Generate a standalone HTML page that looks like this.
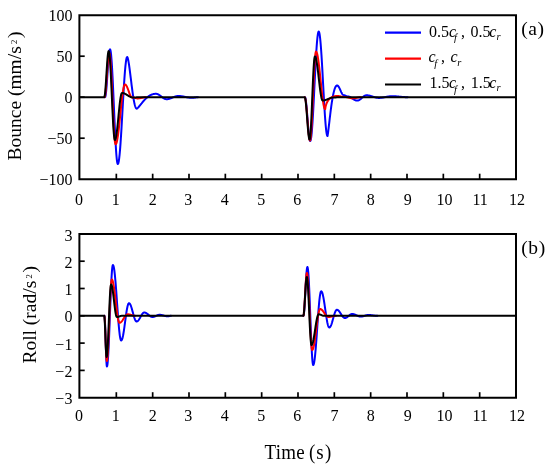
<!DOCTYPE html>
<html><head><meta charset="utf-8"><title>Bounce and roll response</title>
<style>
html,body{margin:0;padding:0;background:#fff;}
body{width:550px;height:469px;overflow:hidden;}
svg{display:block;}
text{font-family:"Liberation Serif","Times New Roman",serif;fill:#000;}
</style></head>
<body>
<svg width="550" height="469" viewBox="0 0 550 469">
<rect x="0" y="0" width="550" height="469" fill="#fff"/>
<g fill="none" stroke-width="2.0" stroke-linejoin="round" stroke-linecap="round">
<path d="M105.00 97.20 L105.25 96.91 L105.50 96.03 L105.75 94.59 L106.00 92.63 L106.25 90.19 L106.50 87.33 L106.75 84.12 L107.00 80.65 L107.25 77.00 L107.50 73.25 L107.75 69.50 L108.00 65.85 L108.25 62.38 L108.50 59.17 L108.75 56.31 L109.00 53.87 L109.25 51.91 L109.50 50.47 L109.75 49.59 L110.00 49.30 L110.25 49.59 L110.50 50.47 L110.75 51.93 L111.01 53.95 L111.26 56.51 L111.51 59.58 L111.76 63.14 L112.01 67.14 L112.26 71.55 L112.52 76.31 L112.77 81.39 L113.02 86.73 L113.27 92.28 L113.52 97.97 L113.77 103.75 L114.03 109.55 L114.28 115.33 L114.53 121.02 L114.78 126.57 L115.03 131.91 L115.28 136.99 L115.54 141.75 L115.79 146.16 L116.04 150.16 L116.29 153.72 L116.54 156.79 L116.79 159.35 L117.05 161.37 L117.30 162.83 L117.55 163.71 L117.80 164.00 L118.05 163.81 L118.31 163.23 L118.56 162.27 L118.82 160.94 L119.07 159.25 L119.32 157.21 L119.58 154.83 L119.83 152.12 L120.09 149.12 L120.34 145.85 L120.59 142.31 L120.85 138.55 L121.10 134.59 L121.36 130.45 L121.61 126.17 L121.86 121.77 L122.12 117.30 L122.37 112.77 L122.63 108.23 L122.88 103.70 L123.14 99.23 L123.39 94.83 L123.64 90.55 L123.90 86.41 L124.15 82.45 L124.41 78.69 L124.66 75.15 L124.91 71.88 L125.17 68.88 L125.42 66.17 L125.68 63.79 L125.93 61.75 L126.18 60.06 L126.44 58.73 L126.69 57.77 L126.95 57.19 L127.20 57.00 L127.45 57.31 L127.71 57.97 L127.96 58.89 L128.21 60.02 L128.46 61.33 L128.72 62.80 L128.97 64.40 L129.22 66.11 L129.47 67.92 L129.73 69.80 L129.98 71.76 L130.23 73.76 L130.48 75.79 L130.74 77.84 L130.99 79.91 L131.24 81.96 L131.49 84.01 L131.75 86.02 L132.00 87.99 L132.25 89.92 L132.51 91.79 L132.76 93.59 L133.01 95.32 L133.26 96.97 L133.52 98.52 L133.77 99.99 L134.02 101.35 L134.27 102.60 L134.53 103.75 L134.78 104.78 L135.03 105.70 L135.28 106.49 L135.54 107.17 L135.79 107.72 L136.04 108.15 L136.29 108.46 L136.55 108.64 L136.80 108.70 L137.05 108.57 L137.30 108.37 L137.55 108.15 L137.81 107.90 L138.06 107.64 L138.31 107.37 L138.56 107.09 L138.81 106.80 L139.06 106.50 L139.31 106.20 L139.56 105.89 L139.82 105.58 L140.07 105.27 L140.32 104.95 L140.57 104.64 L140.82 104.33 L141.07 104.01 L141.32 103.70 L141.58 103.39 L141.83 103.07 L142.08 102.77 L142.33 102.46 L142.58 102.16 L142.83 101.86 L143.08 101.56 L143.33 101.27 L143.59 100.98 L143.84 100.69 L144.09 100.41 L144.34 100.14 L144.59 99.87 L144.84 99.60 L145.09 99.34 L145.34 99.08 L145.60 98.83 L145.85 98.59 L146.10 98.35 L146.35 98.11 L146.60 97.89 L146.85 97.66 L147.10 97.45 L147.36 97.24 L147.61 97.03 L147.86 96.83 L148.11 96.64 L148.36 96.46 L148.61 96.28 L148.86 96.11 L149.11 95.94 L149.37 95.78 L149.62 95.63 L149.87 95.48 L150.12 95.34 L150.37 95.20 L150.62 95.07 L150.87 94.95 L151.12 94.84 L151.38 94.73 L151.63 94.63 L151.88 94.53 L152.13 94.44 L152.38 94.35 L152.63 94.28 L152.88 94.20 L153.14 94.14 L153.39 94.08 L153.64 94.02 L153.89 93.98 L154.14 93.93 L154.39 93.90 L154.64 93.87 L154.89 93.84 L155.15 93.82 L155.40 93.81 L155.65 93.80 L155.90 93.80 L156.15 93.81 L156.41 93.83 L156.66 93.87 L156.92 93.92 L157.17 93.99 L157.43 94.07 L157.68 94.16 L157.94 94.27 L158.19 94.39 L158.45 94.52 L158.70 94.66 L158.96 94.82 L159.21 94.98 L159.47 95.15 L159.72 95.33 L159.98 95.51 L160.23 95.70 L160.49 95.90 L160.74 96.10 L161.00 96.30 L161.25 96.50 L161.50 96.70 L161.76 96.90 L162.01 97.10 L162.27 97.30 L162.52 97.49 L162.78 97.67 L163.03 97.85 L163.29 98.02 L163.54 98.18 L163.80 98.34 L164.05 98.48 L164.31 98.61 L164.56 98.73 L164.82 98.84 L165.07 98.93 L165.33 99.01 L165.58 99.08 L165.84 99.13 L166.09 99.17 L166.35 99.19 L166.60 99.20 L166.85 99.20 L167.11 99.19 L167.36 99.17 L167.62 99.14 L167.87 99.11 L168.13 99.07 L168.38 99.02 L168.63 98.97 L168.89 98.91 L169.14 98.84 L169.40 98.77 L169.65 98.69 L169.91 98.61 L170.16 98.52 L170.42 98.43 L170.67 98.34 L170.92 98.24 L171.18 98.14 L171.43 98.03 L171.69 97.93 L171.94 97.82 L172.20 97.71 L172.45 97.60 L172.70 97.49 L172.96 97.38 L173.21 97.27 L173.47 97.17 L173.72 97.06 L173.98 96.96 L174.23 96.86 L174.48 96.77 L174.74 96.68 L174.99 96.59 L175.25 96.51 L175.50 96.43 L175.76 96.36 L176.01 96.29 L176.27 96.23 L176.52 96.18 L176.77 96.13 L177.03 96.09 L177.28 96.06 L177.54 96.03 L177.79 96.01 L178.05 96.00 L178.30 96.00 L178.55 96.00 L178.81 96.01 L179.06 96.01 L179.31 96.02 L179.57 96.04 L179.82 96.05 L180.08 96.07 L180.33 96.10 L180.58 96.12 L180.84 96.15 L181.09 96.18 L181.34 96.21 L181.60 96.25 L181.85 96.28 L182.11 96.32 L182.36 96.36 L182.61 96.41 L182.87 96.45 L183.12 96.50 L183.37 96.54 L183.63 96.59 L183.88 96.64 L184.14 96.69 L184.39 96.74 L184.64 96.80 L184.90 96.85 L185.15 96.90 L185.40 96.95 L185.66 97.00 L185.91 97.06 L186.16 97.11 L186.42 97.16 L186.67 97.21 L186.93 97.26 L187.18 97.30 L187.43 97.35 L187.69 97.39 L187.94 97.44 L188.19 97.48 L188.45 97.52 L188.70 97.55 L188.96 97.59 L189.21 97.62 L189.46 97.65 L189.72 97.68 L189.97 97.70 L190.22 97.73 L190.48 97.75 L190.73 97.76 L190.99 97.78 L191.24 97.79 L191.49 97.79 L191.75 97.80 L192.00 97.80 L192.25 97.80 L192.50 97.79 L192.75 97.78 L193.00 97.76 L193.25 97.74 L193.50 97.71 L193.75 97.68 L194.00 97.65 L194.25 97.61 L194.50 97.58 L194.75 97.54 L195.00 97.50 L195.25 97.46 L195.50 97.42 L195.75 97.39 L196.00 97.35 L196.25 97.32 L196.50 97.29 L196.75 97.26 L197.00 97.24 L197.25 97.22 L197.50 97.21 L197.75 97.20 L198.00 97.20" stroke="#0000ff"/>
<path d="M304.90 97.20 L305.15 97.44 L305.40 98.17 L305.66 99.37 L305.91 101.01 L306.16 103.05 L306.41 105.45 L306.67 108.15 L306.92 111.10 L307.17 114.23 L307.42 117.46 L307.68 120.74 L307.93 123.97 L308.18 127.10 L308.43 130.05 L308.69 132.75 L308.94 135.15 L309.19 137.19 L309.44 138.83 L309.70 140.03 L309.95 140.76 L310.20 141.00 L310.45 140.77 L310.70 140.07 L310.95 138.91 L311.20 137.31 L311.45 135.27 L311.70 132.81 L311.95 129.95 L312.20 126.72 L312.45 123.15 L312.70 119.26 L312.95 115.10 L313.20 110.68 L313.45 106.06 L313.70 101.27 L313.95 96.35 L314.20 91.35 L314.45 86.30 L314.70 81.25 L314.95 76.25 L315.20 71.33 L315.45 66.54 L315.70 61.92 L315.95 57.50 L316.20 53.34 L316.45 49.45 L316.70 45.88 L316.95 42.65 L317.20 39.79 L317.45 37.33 L317.70 35.29 L317.95 33.69 L318.20 32.53 L318.45 31.83 L318.70 31.60 L318.95 31.81 L319.20 32.44 L319.45 33.48 L319.71 34.93 L319.96 36.77 L320.21 38.99 L320.46 41.57 L320.71 44.49 L320.96 47.73 L321.21 51.25 L321.47 55.04 L321.72 59.06 L321.97 63.28 L322.22 67.67 L322.47 72.18 L322.72 76.79 L322.97 81.46 L323.23 86.14 L323.48 90.81 L323.73 95.42 L323.98 99.93 L324.23 104.32 L324.48 108.54 L324.73 112.56 L324.99 116.35 L325.24 119.87 L325.49 123.11 L325.74 126.03 L325.99 128.61 L326.24 130.83 L326.49 132.67 L326.75 134.12 L327.00 135.16 L327.25 135.79 L327.50 136.00 L327.75 134.72 L328.01 132.98 L328.26 131.04 L328.51 128.99 L328.76 126.87 L329.02 124.71 L329.27 122.53 L329.52 120.36 L329.77 118.21 L330.03 116.08 L330.28 114.00 L330.53 111.96 L330.78 109.98 L331.04 108.06 L331.29 106.20 L331.54 104.41 L331.79 102.70 L332.05 101.06 L332.30 99.50 L332.55 98.02 L332.81 96.63 L333.06 95.31 L333.31 94.08 L333.56 92.94 L333.82 91.88 L334.07 90.90 L334.32 90.01 L334.57 89.20 L334.83 88.48 L335.08 87.84 L335.33 87.28 L335.58 86.79 L335.84 86.39 L336.09 86.07 L336.34 85.82 L336.59 85.64 L336.85 85.53 L337.10 85.50 L337.36 85.54 L337.62 85.64 L337.87 85.82 L338.13 86.06 L338.39 86.36 L338.65 86.72 L338.90 87.13 L339.16 87.59 L339.42 88.10 L339.68 88.63 L339.93 89.19 L340.19 89.77 L340.45 90.35 L340.71 90.93 L340.97 91.51 L341.22 92.07 L341.48 92.60 L341.74 93.11 L342.00 93.57 L342.25 93.98 L342.51 94.34 L342.77 94.64 L343.03 94.88 L343.28 95.06 L343.54 95.16 L343.80 95.20 L344.06 95.22 L344.33 95.26 L344.59 95.33 L344.86 95.43 L345.12 95.54 L345.39 95.67 L345.65 95.80 L345.91 95.93 L346.18 96.06 L346.44 96.17 L346.71 96.27 L346.97 96.34 L347.24 96.38 L347.50 96.40 L347.76 96.41 L348.01 96.43 L348.27 96.46 L348.52 96.51 L348.78 96.58 L349.03 96.65 L349.29 96.74 L349.54 96.84 L349.80 96.95 L350.05 97.08 L350.31 97.21 L350.56 97.35 L350.82 97.50 L351.07 97.66 L351.33 97.82 L351.58 97.98 L351.84 98.15 L352.09 98.33 L352.35 98.50 L352.61 98.67 L352.86 98.85 L353.12 99.02 L353.37 99.18 L353.63 99.34 L353.88 99.50 L354.14 99.65 L354.39 99.79 L354.65 99.92 L354.90 100.05 L355.16 100.16 L355.41 100.26 L355.67 100.35 L355.92 100.42 L356.18 100.49 L356.43 100.54 L356.69 100.57 L356.94 100.59 L357.20 100.60 L357.45 100.59 L357.70 100.56 L357.95 100.51 L358.21 100.45 L358.46 100.36 L358.71 100.26 L358.96 100.15 L359.21 100.01 L359.46 99.86 L359.71 99.70 L359.96 99.53 L360.22 99.34 L360.47 99.14 L360.72 98.94 L360.97 98.73 L361.22 98.51 L361.47 98.29 L361.72 98.06 L361.98 97.84 L362.23 97.61 L362.48 97.39 L362.73 97.17 L362.98 96.96 L363.23 96.76 L363.48 96.56 L363.74 96.37 L363.99 96.20 L364.24 96.04 L364.49 95.89 L364.74 95.75 L364.99 95.64 L365.24 95.54 L365.49 95.45 L365.75 95.39 L366.00 95.34 L366.25 95.31 L366.50 95.30 L366.75 95.30 L367.00 95.31 L367.25 95.32 L367.50 95.34 L367.75 95.36 L368.00 95.39 L368.25 95.42 L368.50 95.46 L368.75 95.50 L369.00 95.55 L369.25 95.60 L369.50 95.65 L369.75 95.71 L370.00 95.77 L370.25 95.84 L370.50 95.90 L370.75 95.97 L371.00 96.05 L371.25 96.12 L371.50 96.20 L371.75 96.28 L372.00 96.36 L372.25 96.44 L372.50 96.52 L372.75 96.60 L373.00 96.68 L373.25 96.76 L373.50 96.84 L373.75 96.92 L374.00 97.00 L374.25 97.08 L374.50 97.15 L374.75 97.23 L375.00 97.30 L375.25 97.36 L375.50 97.43 L375.75 97.49 L376.00 97.55 L376.25 97.60 L376.50 97.65 L376.75 97.70 L377.00 97.74 L377.25 97.78 L377.50 97.81 L377.75 97.84 L378.00 97.86 L378.25 97.88 L378.50 97.89 L378.75 97.90 L379.00 97.90 L379.25 97.90 L379.50 97.89 L379.75 97.89 L380.00 97.88 L380.25 97.86 L380.50 97.84 L380.75 97.83 L381.00 97.80 L381.25 97.78 L381.50 97.75 L381.75 97.72 L382.00 97.69 L382.25 97.65 L382.50 97.61 L382.75 97.57 L383.00 97.53 L383.25 97.49 L383.50 97.45 L383.75 97.40 L384.00 97.35 L384.25 97.30 L384.50 97.25 L384.75 97.20 L385.00 97.15 L385.25 97.10 L385.50 97.05 L385.75 97.00 L386.00 96.95 L386.25 96.90 L386.50 96.85 L386.75 96.80 L387.00 96.75 L387.25 96.70 L387.50 96.65 L387.75 96.61 L388.00 96.57 L388.25 96.53 L388.50 96.49 L388.75 96.45 L389.00 96.41 L389.25 96.38 L389.50 96.35 L389.75 96.32 L390.00 96.30 L390.25 96.27 L390.50 96.26 L390.75 96.24 L391.00 96.22 L391.25 96.21 L391.50 96.21 L391.75 96.20 L392.00 96.20 L392.25 96.20 L392.50 96.20 L392.75 96.21 L393.01 96.21 L393.26 96.22 L393.51 96.22 L393.76 96.23 L394.01 96.24 L394.26 96.25 L394.52 96.26 L394.77 96.28 L395.02 96.29 L395.27 96.30 L395.52 96.32 L395.77 96.34 L396.03 96.36 L396.28 96.37 L396.53 96.39 L396.78 96.41 L397.03 96.44 L397.28 96.46 L397.54 96.48 L397.79 96.50 L398.04 96.53 L398.29 96.55 L398.54 96.57 L398.79 96.60 L399.05 96.62 L399.30 96.65 L399.55 96.67 L399.80 96.70 L400.05 96.73 L400.30 96.75 L400.55 96.78 L400.81 96.80 L401.06 96.83 L401.31 96.85 L401.56 96.87 L401.81 96.90 L402.06 96.92 L402.32 96.94 L402.57 96.96 L402.82 96.99 L403.07 97.01 L403.32 97.03 L403.57 97.04 L403.83 97.06 L404.08 97.08 L404.33 97.10 L404.58 97.11 L404.83 97.12 L405.08 97.14 L405.34 97.15 L405.59 97.16 L405.84 97.17 L406.09 97.18 L406.34 97.18 L406.59 97.19 L406.85 97.19 L407.10 97.20 L407.35 97.20 L407.60 97.20" stroke="#0000ff"/>
<path d="M104.50 97.20 L104.75 96.90 L105.01 96.00 L105.26 94.54 L105.51 92.54 L105.76 90.07 L106.02 87.19 L106.27 83.98 L106.52 80.53 L106.77 76.93 L107.03 73.27 L107.28 69.67 L107.53 66.22 L107.78 63.01 L108.04 60.13 L108.29 57.66 L108.54 55.66 L108.79 54.20 L109.05 53.30 L109.30 53.00 L109.55 53.36 L109.80 54.43 L110.06 56.21 L110.31 58.65 L110.56 61.72 L110.81 65.37 L111.06 69.55 L111.32 74.19 L111.57 79.21 L111.82 84.54 L112.07 90.10 L112.32 95.78 L112.58 101.52 L112.83 107.20 L113.08 112.76 L113.33 118.09 L113.58 123.11 L113.84 127.75 L114.09 131.93 L114.34 135.58 L114.59 138.65 L114.84 141.09 L115.10 142.87 L115.35 143.94 L115.60 144.30 L115.85 144.19 L116.11 143.87 L116.36 143.34 L116.62 142.59 L116.87 141.65 L117.12 140.50 L117.38 139.17 L117.63 137.66 L117.89 135.99 L118.14 134.15 L118.39 132.18 L118.65 130.08 L118.90 127.86 L119.16 125.55 L119.41 123.16 L119.66 120.70 L119.92 118.20 L120.17 115.67 L120.43 113.13 L120.68 110.60 L120.94 108.10 L121.19 105.64 L121.44 103.25 L121.70 100.94 L121.95 98.72 L122.21 96.62 L122.46 94.65 L122.71 92.81 L122.97 91.14 L123.22 89.63 L123.48 88.30 L123.73 87.15 L123.98 86.21 L124.24 85.46 L124.49 84.93 L124.75 84.61 L125.00 84.50 L125.26 84.54 L125.51 84.66 L125.77 84.86 L126.03 85.14 L126.29 85.49 L126.54 85.91 L126.80 86.39 L127.06 86.93 L127.31 87.52 L127.57 88.15 L127.83 88.82 L128.09 89.51 L128.34 90.23 L128.60 90.95 L128.86 91.67 L129.11 92.39 L129.37 93.08 L129.63 93.75 L129.89 94.38 L130.14 94.97 L130.40 95.51 L130.66 95.99 L130.91 96.41 L131.17 96.76 L131.43 97.04 L131.69 97.24 L131.94 97.36 L132.20 97.40 L132.46 97.41 L132.71 97.42 L132.97 97.45 L133.23 97.49 L133.49 97.53 L133.74 97.59 L134.00 97.65 L134.26 97.72 L134.51 97.79 L134.77 97.86 L135.03 97.94 L135.29 98.01 L135.54 98.08 L135.80 98.15 L136.06 98.21 L136.31 98.27 L136.57 98.31 L136.83 98.35 L137.09 98.38 L137.34 98.39 L137.60 98.40 L137.85 98.40 L138.11 98.39 L138.36 98.38 L138.62 98.36 L138.87 98.33 L139.13 98.30 L139.38 98.27 L139.64 98.23 L139.89 98.19 L140.15 98.15 L140.40 98.10 L140.65 98.05 L140.91 98.00 L141.16 97.94 L141.42 97.89 L141.67 97.83 L141.93 97.77 L142.18 97.71 L142.44 97.66 L142.69 97.60 L142.95 97.55 L143.20 97.50 L143.45 97.45 L143.71 97.41 L143.96 97.37 L144.22 97.33 L144.47 97.30 L144.73 97.27 L144.98 97.24 L145.24 97.22 L145.49 97.21 L145.75 97.20 L146.00 97.20" stroke="#ff0000"/>
<path d="M304.70 97.20 L304.95 97.44 L305.20 98.16 L305.46 99.34 L305.71 100.96 L305.96 102.98 L306.21 105.35 L306.47 108.03 L306.72 110.94 L306.97 114.03 L307.22 117.23 L307.48 120.47 L307.73 123.67 L307.98 126.76 L308.23 129.68 L308.49 132.35 L308.74 134.72 L308.99 136.74 L309.24 138.36 L309.50 139.54 L309.75 140.26 L310.00 140.50 L310.25 140.12 L310.50 138.99 L310.75 137.12 L311.00 134.54 L311.25 131.31 L311.50 127.48 L311.75 123.11 L312.00 118.28 L312.25 113.06 L312.50 107.55 L312.75 101.85 L313.00 96.05 L313.25 90.25 L313.50 84.55 L313.75 79.04 L314.00 73.83 L314.25 68.99 L314.50 64.62 L314.75 60.79 L315.00 57.56 L315.25 54.98 L315.50 53.11 L315.75 51.98 L316.00 51.60 L316.26 51.71 L316.51 52.04 L316.77 52.58 L317.02 53.34 L317.28 54.30 L317.53 55.46 L317.79 56.81 L318.04 58.34 L318.30 60.04 L318.56 61.89 L318.81 63.88 L319.07 66.00 L319.32 68.23 L319.58 70.55 L319.83 72.95 L320.09 75.40 L320.34 77.89 L320.60 80.40 L320.86 82.91 L321.11 85.40 L321.37 87.85 L321.62 90.25 L321.88 92.57 L322.13 94.80 L322.39 96.92 L322.64 98.91 L322.90 100.76 L323.16 102.46 L323.41 103.99 L323.67 105.34 L323.92 106.50 L324.18 107.46 L324.43 108.22 L324.69 108.76 L324.94 109.09 L325.20 109.20 L325.45 107.26 L325.70 106.12 L325.96 105.21 L326.21 104.42 L326.46 103.73 L326.71 103.11 L326.96 102.56 L327.22 102.05 L327.47 101.58 L327.72 101.15 L327.97 100.75 L328.23 100.39 L328.48 100.04 L328.73 99.73 L328.98 99.43 L329.23 99.15 L329.49 98.89 L329.74 98.65 L329.99 98.43 L330.24 98.22 L330.49 98.02 L330.75 97.84 L331.00 97.67 L331.25 97.51 L331.50 97.36 L331.75 97.22 L332.01 97.10 L332.26 96.98 L332.51 96.87 L332.76 96.77 L333.01 96.67 L333.27 96.59 L333.52 96.51 L333.77 96.43 L334.02 96.37 L334.27 96.31 L334.53 96.26 L334.78 96.21 L335.03 96.17 L335.28 96.13 L335.54 96.10 L335.79 96.07 L336.04 96.05 L336.29 96.03 L336.54 96.02 L336.80 96.01 L337.05 96.00 L337.30 96.00 L337.56 96.00 L337.82 96.01 L338.07 96.03 L338.33 96.05 L338.59 96.08 L338.85 96.11 L339.10 96.15 L339.36 96.19 L339.62 96.24 L339.88 96.29 L340.13 96.34 L340.39 96.40 L340.65 96.45 L340.91 96.50 L341.17 96.56 L341.42 96.61 L341.68 96.66 L341.94 96.71 L342.20 96.75 L342.45 96.79 L342.71 96.82 L342.97 96.85 L343.23 96.87 L343.48 96.89 L343.74 96.90 L344.00 96.90 L344.25 96.90 L344.50 96.91 L344.75 96.92 L345.00 96.94 L345.25 96.97 L345.50 96.99 L345.75 97.03 L346.00 97.06 L346.25 97.11 L346.50 97.15 L346.75 97.20 L347.00 97.25 L347.25 97.30 L347.50 97.36 L347.75 97.42 L348.00 97.48 L348.25 97.54 L348.50 97.60 L348.75 97.66 L349.00 97.72 L349.25 97.78 L349.50 97.84 L349.75 97.90 L350.00 97.95 L350.25 98.00 L350.50 98.05 L350.75 98.09 L351.00 98.14 L351.25 98.17 L351.50 98.21 L351.75 98.23 L352.00 98.26 L352.25 98.28 L352.50 98.29 L352.75 98.30 L353.00 98.30 L353.25 98.30 L353.50 98.29 L353.75 98.28 L354.00 98.26 L354.25 98.24 L354.50 98.21 L354.75 98.18 L355.00 98.14 L355.25 98.10 L355.50 98.06 L355.75 98.01 L356.00 97.96 L356.25 97.91 L356.50 97.86 L356.75 97.80 L357.00 97.75 L357.25 97.70 L357.50 97.64 L357.75 97.59 L358.00 97.54 L358.25 97.49 L358.50 97.44 L358.75 97.40 L359.00 97.36 L359.25 97.32 L359.50 97.29 L359.75 97.26 L360.00 97.24 L360.25 97.22 L360.50 97.21 L360.75 97.20 L361.00 97.20" stroke="#ff0000"/>
<path d="M80.00 97.20 L104.20 97.20 L104.45 96.85 L104.70 95.81 L104.95 94.11 L105.20 91.80 L105.45 88.95 L105.70 85.65 L105.95 82.00 L106.20 78.11 L106.45 74.10 L106.70 70.09 L106.95 66.20 L107.20 62.55 L107.45 59.25 L107.70 56.40 L107.95 54.09 L108.20 52.39 L108.45 51.35 L108.70 51.00 L108.96 51.38 L109.22 52.52 L109.48 54.39 L109.73 56.96 L109.99 60.20 L110.25 64.03 L110.51 68.41 L110.77 73.25 L111.03 78.47 L111.28 83.98 L111.54 89.69 L111.80 95.50 L112.06 101.31 L112.32 107.02 L112.58 112.53 L112.83 117.75 L113.09 122.59 L113.35 126.97 L113.61 130.80 L113.87 134.04 L114.12 136.61 L114.38 138.48 L114.64 139.62 L114.90 140.00 L115.15 139.85 L115.41 139.41 L115.66 138.68 L115.91 137.67 L116.17 136.40 L116.42 134.87 L116.68 133.12 L116.93 131.15 L117.18 129.00 L117.44 126.70 L117.69 124.26 L117.94 121.73 L118.20 119.13 L118.45 116.50 L118.70 113.87 L118.96 111.27 L119.21 108.74 L119.46 106.30 L119.72 104.00 L119.97 101.85 L120.22 99.88 L120.48 98.13 L120.73 96.60 L120.99 95.33 L121.24 94.32 L121.49 93.59 L121.75 93.15 L122.00 93.00 L122.25 93.01 L122.50 93.02 L122.75 93.05 L123.00 93.09 L123.25 93.14 L123.50 93.20 L123.75 93.28 L124.00 93.36 L124.25 93.45 L124.50 93.55 L124.75 93.66 L125.00 93.78 L125.25 93.90 L125.50 94.03 L125.75 94.17 L126.00 94.32 L126.25 94.46 L126.50 94.62 L126.75 94.77 L127.00 94.93 L127.25 95.09 L127.50 95.25 L127.75 95.41 L128.00 95.57 L128.25 95.73 L128.50 95.88 L128.75 96.04 L129.00 96.18 L129.25 96.33 L129.50 96.47 L129.75 96.60 L130.00 96.72 L130.25 96.84 L130.50 96.95 L130.75 97.05 L131.00 97.14 L131.25 97.22 L131.50 97.30 L131.75 97.36 L132.00 97.41 L132.25 97.45 L132.50 97.48 L132.75 97.49 L133.00 97.50 L133.25 97.50 L133.50 97.50 L133.75 97.49 L134.00 97.49 L134.25 97.48 L134.50 97.47 L134.75 97.46 L135.00 97.44 L135.25 97.43 L135.50 97.42 L135.75 97.40 L136.00 97.38 L136.25 97.37 L136.50 97.35 L136.75 97.33 L137.00 97.32 L137.25 97.30 L137.50 97.28 L137.75 97.27 L138.00 97.26 L138.25 97.24 L138.50 97.23 L138.75 97.22 L139.00 97.21 L139.25 97.21 L139.50 97.20 L139.75 97.20 L140.00 97.20 L304.70 97.20 L304.96 97.49 L305.22 98.35 L305.47 99.75 L305.73 101.66 L305.99 104.03 L306.25 106.78 L306.51 109.85 L306.76 113.16 L307.02 116.60 L307.28 120.10 L307.54 123.54 L307.79 126.85 L308.05 129.92 L308.31 132.67 L308.57 135.04 L308.83 136.95 L309.08 138.35 L309.34 139.21 L309.60 139.50 L309.85 139.04 L310.10 137.66 L310.36 135.39 L310.61 132.29 L310.86 128.42 L311.11 123.87 L311.37 118.75 L311.62 113.16 L311.87 107.23 L312.12 101.10 L312.38 94.90 L312.63 88.77 L312.88 82.84 L313.13 77.25 L313.39 72.13 L313.64 67.58 L313.89 63.71 L314.14 60.61 L314.40 58.34 L314.65 56.96 L314.90 56.50 L315.15 56.61 L315.40 56.95 L315.65 57.51 L315.91 58.28 L316.16 59.26 L316.41 60.44 L316.66 61.81 L316.91 63.34 L317.16 65.03 L317.42 66.86 L317.67 68.81 L317.92 70.86 L318.17 72.99 L318.42 75.17 L318.67 77.39 L318.93 79.61 L319.18 81.83 L319.43 84.01 L319.68 86.14 L319.93 88.19 L320.18 90.14 L320.44 91.97 L320.69 93.66 L320.94 95.19 L321.19 96.56 L321.44 97.74 L321.69 98.72 L321.95 99.49 L322.20 100.05 L322.45 100.39 L322.70 100.50 L322.95 100.50 L323.20 100.48 L323.45 100.46 L323.70 100.44 L323.96 100.40 L324.21 100.36 L324.46 100.31 L324.71 100.25 L324.96 100.19 L325.21 100.12 L325.46 100.04 L325.71 99.96 L325.97 99.87 L326.22 99.78 L326.47 99.69 L326.72 99.59 L326.97 99.48 L327.22 99.38 L327.47 99.27 L327.72 99.16 L327.97 99.05 L328.23 98.95 L328.48 98.84 L328.73 98.73 L328.98 98.62 L329.23 98.52 L329.48 98.41 L329.73 98.31 L329.98 98.22 L330.23 98.13 L330.49 98.04 L330.74 97.96 L330.99 97.88 L331.24 97.81 L331.49 97.75 L331.74 97.69 L331.99 97.64 L332.24 97.60 L332.50 97.56 L332.75 97.54 L333.00 97.52 L333.25 97.50 L333.50 97.50 L333.75 97.50 L334.00 97.50 L334.25 97.49 L334.50 97.48 L334.75 97.47 L335.00 97.46 L335.25 97.45 L335.50 97.44 L335.75 97.42 L336.00 97.40 L336.25 97.39 L336.50 97.37 L336.75 97.35 L337.00 97.33 L337.25 97.31 L337.50 97.30 L337.75 97.28 L338.00 97.26 L338.25 97.25 L338.50 97.24 L338.75 97.23 L339.00 97.22 L339.25 97.21 L339.50 97.20 L339.75 97.20 L340.00 97.20 L516.00 97.20" stroke="#000000"/>
<path d="M104.40 315.80 L104.65 317.04 L104.90 320.64 L105.15 326.25 L105.40 333.32 L105.65 341.15 L105.90 348.98 L106.15 356.05 L106.40 361.66 L106.65 365.26 L106.90 366.50 L107.15 366.07 L107.40 364.77 L107.65 362.64 L107.90 359.70 L108.15 356.01 L108.40 351.64 L108.65 346.64 L108.90 341.12 L109.15 335.17 L109.40 328.89 L109.65 322.37 L109.90 315.75 L110.15 309.13 L110.40 302.61 L110.65 296.33 L110.90 290.38 L111.15 284.86 L111.40 279.86 L111.65 275.49 L111.90 271.80 L112.15 268.86 L112.40 266.73 L112.65 265.43 L112.90 265.00 L113.15 265.17 L113.40 265.68 L113.65 266.53 L113.91 267.70 L114.16 269.20 L114.41 270.99 L114.66 273.08 L114.91 275.43 L115.16 278.03 L115.42 280.85 L115.67 283.88 L115.92 287.07 L116.17 290.40 L116.42 293.85 L116.67 297.38 L116.92 300.95 L117.18 304.55 L117.43 308.12 L117.68 311.65 L117.93 315.10 L118.18 318.43 L118.43 321.62 L118.68 324.65 L118.94 327.47 L119.19 330.07 L119.44 332.42 L119.69 334.51 L119.94 336.30 L120.19 337.80 L120.45 338.97 L120.70 339.82 L120.95 340.33 L121.20 340.50 L121.45 340.40 L121.70 340.12 L121.95 339.64 L122.21 338.99 L122.46 338.16 L122.71 337.16 L122.96 336.00 L123.21 334.70 L123.46 333.27 L123.72 331.72 L123.97 330.06 L124.22 328.33 L124.47 326.52 L124.72 324.67 L124.97 322.79 L125.23 320.91 L125.48 319.03 L125.73 317.18 L125.98 315.37 L126.23 313.64 L126.48 311.98 L126.74 310.43 L126.99 309.00 L127.24 307.70 L127.49 306.54 L127.74 305.54 L127.99 304.71 L128.25 304.06 L128.50 303.58 L128.75 303.30 L129.00 303.20 L129.25 303.25 L129.51 303.40 L129.76 303.65 L130.01 303.99 L130.27 304.43 L130.52 304.95 L130.77 305.55 L131.03 306.23 L131.28 306.97 L131.53 307.77 L131.79 308.63 L132.04 309.52 L132.29 310.45 L132.55 311.39 L132.80 312.35 L133.05 313.31 L133.31 314.25 L133.56 315.18 L133.81 316.07 L134.07 316.93 L134.32 317.73 L134.57 318.47 L134.83 319.15 L135.08 319.75 L135.33 320.27 L135.59 320.71 L135.84 321.05 L136.09 321.30 L136.35 321.45 L136.60 321.50 L136.86 321.48 L137.11 321.40 L137.37 321.28 L137.63 321.11 L137.88 320.90 L138.14 320.64 L138.40 320.34 L138.65 320.01 L138.91 319.65 L139.17 319.25 L139.42 318.83 L139.68 318.39 L139.94 317.94 L140.19 317.47 L140.45 317.00 L140.71 316.53 L140.96 316.06 L141.22 315.61 L141.48 315.17 L141.73 314.75 L141.99 314.35 L142.25 313.99 L142.50 313.66 L142.76 313.36 L143.02 313.10 L143.27 312.89 L143.53 312.72 L143.79 312.60 L144.04 312.52 L144.30 312.50 L144.56 312.51 L144.81 312.54 L145.07 312.60 L145.33 312.67 L145.58 312.77 L145.84 312.88 L146.09 313.01 L146.35 313.16 L146.61 313.32 L146.86 313.50 L147.12 313.69 L147.38 313.89 L147.63 314.10 L147.89 314.31 L148.14 314.53 L148.40 314.75 L148.66 314.97 L148.91 315.19 L149.17 315.40 L149.43 315.61 L149.68 315.81 L149.94 316.00 L150.19 316.18 L150.45 316.34 L150.71 316.49 L150.96 316.62 L151.22 316.73 L151.47 316.83 L151.73 316.90 L151.99 316.96 L152.24 316.99 L152.50 317.00 L152.75 316.99 L153.00 316.97 L153.25 316.94 L153.50 316.89 L153.75 316.83 L154.00 316.76 L154.25 316.68 L154.50 316.59 L154.75 316.49 L155.00 316.38 L155.25 316.26 L155.50 316.14 L155.75 316.02 L156.00 315.90 L156.25 315.78 L156.50 315.66 L156.75 315.54 L157.00 315.42 L157.25 315.31 L157.50 315.21 L157.75 315.12 L158.00 315.04 L158.25 314.97 L158.50 314.91 L158.75 314.86 L159.00 314.83 L159.25 314.81 L159.50 314.80 L159.75 314.80 L160.00 314.81 L160.25 314.83 L160.51 314.85 L160.76 314.88 L161.01 314.92 L161.26 314.96 L161.51 315.01 L161.76 315.06 L162.02 315.11 L162.27 315.18 L162.52 315.24 L162.77 315.30 L163.02 315.37 L163.27 315.44 L163.52 315.51 L163.78 315.59 L164.03 315.66 L164.28 315.73 L164.53 315.80 L164.78 315.86 L165.03 315.93 L165.28 315.99 L165.54 316.04 L165.79 316.09 L166.04 316.14 L166.29 316.18 L166.54 316.22 L166.79 316.25 L167.05 316.27 L167.30 316.29 L167.55 316.30 L167.80 316.30 L168.07 316.29 L168.33 316.27 L168.60 316.23 L168.87 316.18 L169.13 316.11 L169.40 316.05 L169.67 315.99 L169.93 315.93 L170.20 315.87 L170.47 315.83 L170.73 315.81 L171.00 315.80" stroke="#0000ff"/>
<path d="M303.40 315.80 L303.65 315.33 L303.90 313.94 L304.15 311.69 L304.40 308.65 L304.65 304.96 L304.90 300.74 L305.15 296.16 L305.40 291.40 L305.65 286.64 L305.90 282.06 L306.15 277.84 L306.40 274.15 L306.65 271.11 L306.90 268.86 L307.15 267.47 L307.40 267.00 L307.65 267.46 L307.90 268.82 L308.16 271.06 L308.41 274.13 L308.66 277.99 L308.91 282.55 L309.17 287.74 L309.42 293.46 L309.67 299.59 L309.92 306.03 L310.17 312.66 L310.43 319.34 L310.68 325.97 L310.93 332.41 L311.18 338.54 L311.43 344.26 L311.69 349.45 L311.94 354.01 L312.19 357.87 L312.44 360.94 L312.70 363.18 L312.95 364.54 L313.20 365.00 L313.45 364.82 L313.70 364.29 L313.95 363.41 L314.20 362.19 L314.45 360.65 L314.70 358.79 L314.95 356.64 L315.20 354.21 L315.45 351.53 L315.70 348.62 L315.95 345.52 L316.20 342.25 L316.45 338.85 L316.70 335.34 L316.95 331.76 L317.20 328.15 L317.45 324.54 L317.70 320.96 L317.95 317.45 L318.20 314.05 L318.45 310.78 L318.70 307.68 L318.95 304.77 L319.20 302.09 L319.45 299.66 L319.70 297.51 L319.95 295.65 L320.20 294.11 L320.45 292.89 L320.70 292.01 L320.95 291.48 L321.20 291.30 L321.45 291.39 L321.71 291.65 L321.96 292.08 L322.21 292.68 L322.47 293.44 L322.72 294.35 L322.97 295.41 L323.23 296.60 L323.48 297.92 L323.73 299.34 L323.98 300.87 L324.24 302.47 L324.49 304.15 L324.74 305.87 L325.00 307.63 L325.25 309.40 L325.50 311.17 L325.76 312.93 L326.01 314.65 L326.26 316.33 L326.52 317.93 L326.77 319.46 L327.02 320.88 L327.27 322.20 L327.53 323.39 L327.78 324.45 L328.03 325.36 L328.29 326.12 L328.54 326.72 L328.79 327.15 L329.05 327.41 L329.30 327.50 L329.55 327.45 L329.81 327.31 L330.06 327.07 L330.31 326.73 L330.57 326.31 L330.82 325.81 L331.07 325.23 L331.33 324.57 L331.58 323.85 L331.83 323.07 L332.09 322.25 L332.34 321.38 L332.59 320.49 L332.85 319.58 L333.10 318.65 L333.35 317.72 L333.61 316.81 L333.86 315.92 L334.11 315.05 L334.37 314.23 L334.62 313.45 L334.87 312.73 L335.13 312.07 L335.38 311.49 L335.63 310.99 L335.89 310.57 L336.14 310.23 L336.39 309.99 L336.65 309.85 L336.90 309.80 L337.15 309.82 L337.40 309.88 L337.65 309.98 L337.90 310.11 L338.15 310.28 L338.40 310.49 L338.65 310.73 L338.90 311.00 L339.15 311.30 L339.40 311.62 L339.65 311.97 L339.90 312.33 L340.15 312.71 L340.40 313.10 L340.65 313.50 L340.90 313.90 L341.15 314.30 L341.40 314.70 L341.65 315.09 L341.90 315.47 L342.15 315.83 L342.40 316.18 L342.65 316.50 L342.90 316.80 L343.15 317.07 L343.40 317.31 L343.65 317.52 L343.90 317.69 L344.15 317.82 L344.40 317.92 L344.65 317.98 L344.90 318.00 L345.15 317.99 L345.40 317.95 L345.66 317.90 L345.91 317.82 L346.16 317.71 L346.41 317.59 L346.66 317.45 L346.91 317.29 L347.17 317.12 L347.42 316.94 L347.67 316.74 L347.92 316.54 L348.17 316.32 L348.42 316.11 L348.68 315.89 L348.93 315.68 L349.18 315.46 L349.43 315.26 L349.68 315.06 L349.93 314.88 L350.19 314.71 L350.44 314.55 L350.69 314.41 L350.94 314.29 L351.19 314.18 L351.44 314.10 L351.70 314.05 L351.95 314.01 L352.20 314.00 L352.45 314.01 L352.71 314.02 L352.96 314.05 L353.21 314.09 L353.46 314.14 L353.72 314.19 L353.97 314.26 L354.22 314.34 L354.48 314.42 L354.73 314.52 L354.98 314.62 L355.24 314.72 L355.49 314.83 L355.74 314.94 L355.99 315.06 L356.25 315.18 L356.50 315.30 L356.75 315.42 L357.01 315.54 L357.26 315.66 L357.51 315.77 L357.76 315.88 L358.02 315.98 L358.27 316.08 L358.52 316.18 L358.78 316.26 L359.03 316.34 L359.28 316.41 L359.54 316.46 L359.79 316.51 L360.04 316.55 L360.29 316.58 L360.55 316.59 L360.80 316.60 L361.06 316.60 L361.31 316.58 L361.57 316.56 L361.83 316.53 L362.08 316.49 L362.34 316.45 L362.60 316.39 L362.85 316.34 L363.11 316.27 L363.37 316.20 L363.62 316.13 L363.88 316.05 L364.14 315.97 L364.39 315.88 L364.65 315.80 L364.91 315.72 L365.16 315.63 L365.42 315.55 L365.68 315.47 L365.93 315.40 L366.19 315.33 L366.45 315.26 L366.70 315.21 L366.96 315.15 L367.22 315.11 L367.47 315.07 L367.73 315.04 L367.99 315.02 L368.24 315.00 L368.50 315.00 L368.75 315.00 L369.01 315.01 L369.26 315.01 L369.52 315.03 L369.77 315.04 L370.03 315.06 L370.28 315.08 L370.53 315.10 L370.79 315.12 L371.04 315.15 L371.30 315.18 L371.55 315.21 L371.81 315.24 L372.06 315.28 L372.31 315.31 L372.57 315.35 L372.82 315.38 L373.08 315.42 L373.33 315.45 L373.59 315.49 L373.84 315.52 L374.09 315.56 L374.35 315.59 L374.60 315.62 L374.86 315.65 L375.11 315.68 L375.37 315.70 L375.62 315.72 L375.87 315.74 L376.13 315.76 L376.38 315.77 L376.64 315.79 L376.89 315.79 L377.15 315.80 L377.40 315.80" stroke="#0000ff"/>
<path d="M104.30 315.80 L104.55 316.91 L104.80 320.12 L105.05 325.12 L105.30 331.42 L105.55 338.40 L105.80 345.38 L106.05 351.68 L106.30 356.68 L106.55 359.89 L106.80 361.00 L107.05 360.50 L107.30 359.01 L107.55 356.56 L107.80 353.22 L108.05 349.06 L108.30 344.20 L108.55 338.75 L108.80 332.84 L109.05 326.62 L109.30 320.25 L109.55 313.88 L109.80 307.66 L110.05 301.75 L110.30 296.30 L110.55 291.44 L110.80 287.28 L111.05 283.94 L111.30 281.49 L111.55 280.00 L111.80 279.50 L112.06 279.62 L112.31 279.97 L112.57 280.56 L112.83 281.37 L113.08 282.40 L113.34 283.63 L113.60 285.06 L113.85 286.66 L114.11 288.42 L114.37 290.32 L114.62 292.34 L114.88 294.46 L115.14 296.65 L115.39 298.89 L115.65 301.15 L115.91 303.41 L116.16 305.65 L116.42 307.84 L116.68 309.96 L116.93 311.98 L117.19 313.88 L117.45 315.64 L117.70 317.24 L117.96 318.67 L118.22 319.90 L118.47 320.93 L118.73 321.74 L118.99 322.33 L119.24 322.68 L119.50 322.80 L119.75 322.78 L120.00 322.72 L120.25 322.63 L120.51 322.50 L120.76 322.33 L121.01 322.13 L121.26 321.89 L121.51 321.63 L121.76 321.33 L122.02 321.02 L122.27 320.68 L122.52 320.32 L122.77 319.94 L123.02 319.55 L123.27 319.15 L123.52 318.75 L123.78 318.35 L124.03 317.95 L124.28 317.55 L124.53 317.16 L124.78 316.78 L125.03 316.43 L125.28 316.08 L125.54 315.77 L125.79 315.47 L126.04 315.21 L126.29 314.97 L126.54 314.77 L126.79 314.60 L127.05 314.47 L127.30 314.38 L127.55 314.32 L127.80 314.30 L128.06 314.30 L128.31 314.32 L128.57 314.34 L128.83 314.37 L129.09 314.41 L129.34 314.46 L129.60 314.52 L129.86 314.58 L130.11 314.65 L130.37 314.72 L130.63 314.80 L130.89 314.88 L131.14 314.97 L131.40 315.05 L131.66 315.13 L131.91 315.22 L132.17 315.30 L132.43 315.38 L132.69 315.45 L132.94 315.52 L133.20 315.58 L133.46 315.64 L133.71 315.69 L133.97 315.73 L134.23 315.76 L134.49 315.78 L134.74 315.80 L135.00 315.80" stroke="#ff0000"/>
<path d="M303.30 315.80 L303.56 315.26 L303.81 313.68 L304.07 311.13 L304.33 307.74 L304.59 303.69 L304.84 299.16 L305.10 294.40 L305.36 289.64 L305.61 285.11 L305.87 281.06 L306.13 277.67 L306.39 275.12 L306.64 273.54 L306.90 273.00 L307.15 273.43 L307.40 274.71 L307.66 276.81 L307.91 279.69 L308.16 283.28 L308.41 287.50 L308.67 292.25 L308.92 297.43 L309.17 302.93 L309.42 308.62 L309.68 314.38 L309.93 320.07 L310.18 325.57 L310.43 330.75 L310.69 335.50 L310.94 339.72 L311.19 343.31 L311.44 346.19 L311.70 348.29 L311.95 349.57 L312.20 350.00 L312.45 349.90 L312.70 349.61 L312.95 349.12 L313.20 348.44 L313.45 347.58 L313.70 346.55 L313.95 345.35 L314.20 344.00 L314.45 342.51 L314.70 340.89 L314.95 339.16 L315.20 337.35 L315.45 335.45 L315.70 333.50 L315.95 331.51 L316.20 329.50 L316.45 327.49 L316.70 325.50 L316.95 323.55 L317.20 321.65 L317.45 319.84 L317.70 318.11 L317.95 316.49 L318.20 315.00 L318.45 313.65 L318.70 312.45 L318.95 311.42 L319.20 310.56 L319.45 309.88 L319.70 309.39 L319.95 309.10 L320.20 309.00 L320.46 309.02 L320.71 309.08 L320.97 309.17 L321.22 309.30 L321.48 309.47 L321.74 309.67 L321.99 309.91 L322.25 310.17 L322.51 310.46 L322.76 310.78 L323.02 311.11 L323.27 311.47 L323.53 311.84 L323.79 312.22 L324.04 312.61 L324.30 313.00 L324.56 313.39 L324.81 313.78 L325.07 314.16 L325.32 314.53 L325.58 314.89 L325.84 315.22 L326.09 315.54 L326.35 315.83 L326.61 316.09 L326.86 316.33 L327.12 316.53 L327.38 316.70 L327.63 316.83 L327.89 316.92 L328.14 316.98 L328.40 317.00 L328.65 317.00 L328.91 316.99 L329.16 316.97 L329.41 316.95 L329.67 316.92 L329.92 316.89 L330.17 316.85 L330.43 316.80 L330.68 316.75 L330.93 316.70 L331.19 316.64 L331.44 316.59 L331.69 316.52 L331.95 316.46 L332.20 316.40 L332.45 316.34 L332.71 316.28 L332.96 316.21 L333.21 316.16 L333.47 316.10 L333.72 316.05 L333.97 316.00 L334.23 315.95 L334.48 315.91 L334.73 315.88 L334.99 315.85 L335.24 315.83 L335.49 315.81 L335.75 315.80 L336.00 315.80" stroke="#ff0000"/>
<path d="M80.00 315.80 L104.20 315.80 L104.47 317.04 L104.73 320.62 L105.00 326.10 L105.27 332.82 L105.53 339.98 L105.80 346.70 L106.07 352.18 L106.33 355.76 L106.60 357.00 L106.85 356.45 L107.10 354.81 L107.35 352.14 L107.60 348.52 L107.85 344.05 L108.10 338.88 L108.35 333.15 L108.60 327.04 L108.85 320.75 L109.10 314.46 L109.35 308.35 L109.60 302.62 L109.85 297.45 L110.10 292.98 L110.35 289.36 L110.60 286.69 L110.85 285.05 L111.10 284.50 L111.35 284.65 L111.60 285.10 L111.86 285.85 L112.11 286.87 L112.36 288.14 L112.61 289.66 L112.87 291.38 L113.12 293.27 L113.37 295.31 L113.62 297.44 L113.87 299.64 L114.13 301.86 L114.38 304.06 L114.63 306.19 L114.88 308.23 L115.13 310.12 L115.39 311.84 L115.64 313.36 L115.89 314.63 L116.14 315.65 L116.40 316.40 L116.65 316.85 L116.90 317.00 L117.16 316.99 L117.41 316.97 L117.67 316.93 L117.92 316.89 L118.18 316.82 L118.43 316.75 L118.69 316.67 L118.94 316.59 L119.20 316.49 L119.45 316.40 L119.70 316.31 L119.96 316.21 L120.22 316.13 L120.47 316.05 L120.72 315.98 L120.98 315.91 L121.23 315.87 L121.49 315.83 L121.75 315.81 L122.00 315.80 L303.30 315.80 L303.55 315.31 L303.80 313.88 L304.05 311.57 L304.30 308.50 L304.55 304.82 L304.80 300.72 L305.05 296.40 L305.30 292.08 L305.55 287.98 L305.80 284.30 L306.05 281.23 L306.30 278.92 L306.55 277.49 L306.80 277.00 L307.06 277.52 L307.32 279.05 L307.58 281.56 L307.84 284.95 L308.11 289.15 L308.37 294.00 L308.63 299.37 L308.89 305.10 L309.15 311.00 L309.41 316.90 L309.67 322.63 L309.93 328.00 L310.19 332.85 L310.46 337.05 L310.72 340.44 L310.98 342.95 L311.24 344.48 L311.50 345.00 L311.76 344.90 L312.01 344.62 L312.27 344.14 L312.53 343.48 L312.79 342.65 L313.04 341.65 L313.30 340.50 L313.56 339.22 L313.81 337.82 L314.07 336.31 L314.33 334.72 L314.59 333.07 L314.84 331.37 L315.10 329.65 L315.36 327.93 L315.61 326.23 L315.87 324.58 L316.13 322.99 L316.39 321.48 L316.64 320.08 L316.90 318.80 L317.16 317.65 L317.41 316.65 L317.67 315.82 L317.93 315.16 L318.19 314.68 L318.44 314.40 L318.70 314.30 L318.95 314.31 L319.20 314.33 L319.46 314.37 L319.71 314.43 L319.96 314.50 L320.21 314.58 L320.47 314.68 L320.72 314.78 L320.97 314.88 L321.22 314.99 L321.48 315.11 L321.73 315.22 L321.98 315.32 L322.23 315.43 L322.49 315.52 L322.74 315.60 L322.99 315.67 L323.24 315.73 L323.50 315.77 L323.75 315.79 L324.00 315.80 L516.00 315.80" stroke="#000000"/>
</g>
<g stroke="#000" stroke-width="1.7" fill="none">
<line x1="79.4" y1="56.20" x2="84.7" y2="56.20"/>
<line x1="79.4" y1="97.20" x2="84.7" y2="97.20"/>
<line x1="79.4" y1="138.20" x2="84.7" y2="138.20"/>
<line x1="116.33" y1="179.2" x2="116.33" y2="173.7"/>
<line x1="152.67" y1="179.2" x2="152.67" y2="173.7"/>
<line x1="189.00" y1="179.2" x2="189.00" y2="173.7"/>
<line x1="225.33" y1="179.2" x2="225.33" y2="173.7"/>
<line x1="261.67" y1="179.2" x2="261.67" y2="173.7"/>
<line x1="298.00" y1="179.2" x2="298.00" y2="173.7"/>
<line x1="334.33" y1="179.2" x2="334.33" y2="173.7"/>
<line x1="370.67" y1="179.2" x2="370.67" y2="173.7"/>
<line x1="407.00" y1="179.2" x2="407.00" y2="173.7"/>
<line x1="443.33" y1="179.2" x2="443.33" y2="173.7"/>
<line x1="479.67" y1="179.2" x2="479.67" y2="173.7"/>
<line x1="79.4" y1="261.20" x2="84.7" y2="261.20"/>
<line x1="79.4" y1="288.50" x2="84.7" y2="288.50"/>
<line x1="79.4" y1="315.80" x2="84.7" y2="315.80"/>
<line x1="79.4" y1="343.10" x2="84.7" y2="343.10"/>
<line x1="79.4" y1="370.40" x2="84.7" y2="370.40"/>
<line x1="116.33" y1="397.7" x2="116.33" y2="392.2"/>
<line x1="152.67" y1="397.7" x2="152.67" y2="392.2"/>
<line x1="189.00" y1="397.7" x2="189.00" y2="392.2"/>
<line x1="225.33" y1="397.7" x2="225.33" y2="392.2"/>
<line x1="261.67" y1="397.7" x2="261.67" y2="392.2"/>
<line x1="298.00" y1="397.7" x2="298.00" y2="392.2"/>
<line x1="334.33" y1="397.7" x2="334.33" y2="392.2"/>
<line x1="370.67" y1="397.7" x2="370.67" y2="392.2"/>
<line x1="407.00" y1="397.7" x2="407.00" y2="392.2"/>
<line x1="443.33" y1="397.7" x2="443.33" y2="392.2"/>
<line x1="479.67" y1="397.7" x2="479.67" y2="392.2"/>
</g>
<g fill="none" stroke="#000" stroke-width="2">
<path d="M79.4 15.2 H516.0 V179.2 H79.4 Z"/>
<path d="M79.4 233.9 H516.0 V397.7 H79.4 Z"/>
</g>
<g font-size="16">
<text x="72.6" y="21.40" text-anchor="end">100</text>
<text x="72.6" y="62.40" text-anchor="end">50</text>
<text x="72.6" y="103.40" text-anchor="end">0</text>
<text x="72.6" y="144.40" text-anchor="end">−50</text>
<text x="72.6" y="185.40" text-anchor="end">−100</text>
<text x="78.90" y="204.6" text-anchor="middle">0</text>
<text x="115.63" y="204.6" text-anchor="middle">1</text>
<text x="152.87" y="204.6" text-anchor="middle">2</text>
<text x="188.20" y="204.6" text-anchor="middle">3</text>
<text x="224.83" y="204.6" text-anchor="middle">4</text>
<text x="261.37" y="204.6" text-anchor="middle">5</text>
<text x="297.30" y="204.6" text-anchor="middle">6</text>
<text x="334.53" y="204.6" text-anchor="middle">7</text>
<text x="370.77" y="204.6" text-anchor="middle">8</text>
<text x="407.70" y="204.6" text-anchor="middle">9</text>
<text x="444.43" y="204.6" text-anchor="middle">10</text>
<text x="480.17" y="204.6" text-anchor="middle">11</text>
<text x="517.10" y="204.6" text-anchor="middle">12</text>
<text x="72.4" y="240.50" text-anchor="end">3</text>
<text x="72.4" y="267.80" text-anchor="end">2</text>
<text x="72.4" y="295.10" text-anchor="end">1</text>
<text x="72.4" y="322.40" text-anchor="end">0</text>
<text x="72.4" y="349.70" text-anchor="end">−1</text>
<text x="72.4" y="377.00" text-anchor="end">−2</text>
<text x="72.4" y="404.30" text-anchor="end">−3</text>
<text x="78.90" y="420.7" text-anchor="middle">0</text>
<text x="115.63" y="420.7" text-anchor="middle">1</text>
<text x="152.87" y="420.7" text-anchor="middle">2</text>
<text x="188.20" y="420.7" text-anchor="middle">3</text>
<text x="224.83" y="420.7" text-anchor="middle">4</text>
<text x="261.37" y="420.7" text-anchor="middle">5</text>
<text x="297.30" y="420.7" text-anchor="middle">6</text>
<text x="334.53" y="420.7" text-anchor="middle">7</text>
<text x="370.77" y="420.7" text-anchor="middle">8</text>
<text x="407.70" y="420.7" text-anchor="middle">9</text>
<text x="444.43" y="420.7" text-anchor="middle">10</text>
<text x="480.17" y="420.7" text-anchor="middle">11</text>
<text x="517.10" y="420.7" text-anchor="middle">12</text>
</g>
<g font-size="19.5" letter-spacing="0.6">
<text x="521.2" y="34.6">(a)</text>
<text x="521.2" y="254.1">(b)</text>
</g>
<text font-size="19.5" transform="translate(20.7,96.0) rotate(-90)" text-anchor="middle">Bounce (mm/s<tspan font-size="8.5" dy="-4.2" dx="2.2">2</tspan><tspan dy="4.2" dx="1.8">)</tspan></text>
<text font-size="19.5" transform="translate(36.3,314.8) rotate(-90)" text-anchor="middle">Roll (rad/s<tspan font-size="8.5" dy="-4.2" dx="2.2">2</tspan><tspan dy="4.2" dx="1.8">)</tspan></text>
<text font-size="20.6" transform="translate(298.1,459) scale(0.92,1)" text-anchor="middle" letter-spacing="0.3">Time <tspan dx="-1.0">(</tspan><tspan dx="0.6">s</tspan><tspan dx="1.2">)</tspan></text>
<g stroke-width="2.2" stroke-linecap="butt">
<line x1="385" y1="32.6" x2="421" y2="32.6" stroke="#0000ff"/>
<line x1="385" y1="58.6" x2="421" y2="58.6" stroke="#ff0000"/>
<line x1="385" y1="84.5" x2="421" y2="84.5" stroke="#000"/>
</g>
<text x="429.0" y="36.8" font-size="16">0.5</text>
<text x="449.0" y="36.8" font-size="16" font-style="italic">c</text>
<text x="454.0" y="41.4" font-size="10.5" font-style="italic">f</text>
<text x="461.0" y="36.8" font-size="16">,</text>
<text x="470.5" y="36.8" font-size="16">0.5</text>
<text x="489.2" y="36.8" font-size="16" font-style="italic">c</text>
<text x="496.4" y="40.0" font-size="10.5" font-style="italic">r</text>
<text x="428.6" y="62.3" font-size="16" font-style="italic">c</text>
<text x="434.2" y="66.9" font-size="10.5" font-style="italic">f</text>
<text x="441.0" y="62.3" font-size="16">,</text>
<text x="450.6" y="62.3" font-size="16" font-style="italic">c</text>
<text x="457.2" y="65.5" font-size="10.5" font-style="italic">r</text>
<text x="429.6" y="88.0" font-size="16">1.5</text>
<text x="449.0" y="88.0" font-size="16" font-style="italic">c</text>
<text x="454.0" y="92.6" font-size="10.5" font-style="italic">f</text>
<text x="461.0" y="88.0" font-size="16">,</text>
<text x="470.8" y="88.0" font-size="16">1.5</text>
<text x="489.2" y="88.0" font-size="16" font-style="italic">c</text>
<text x="496.4" y="91.2" font-size="10.5" font-style="italic">r</text>
</svg>
</body></html>
